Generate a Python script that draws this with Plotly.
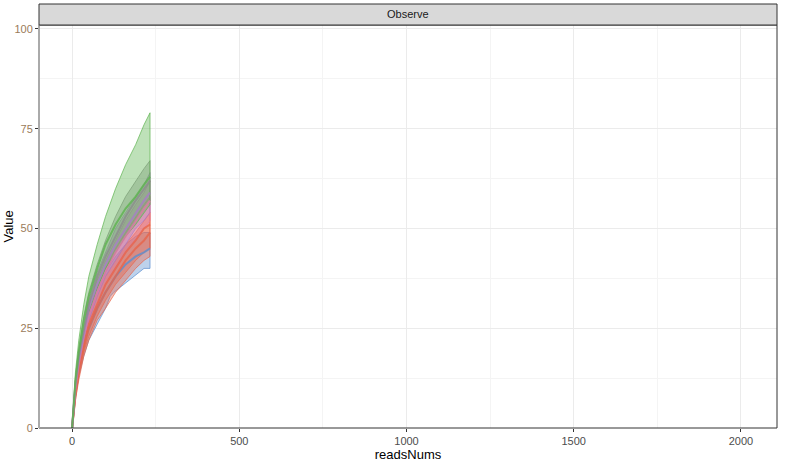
import plotly.graph_objects as go

# sample depths shared by the curves
reads = [0, 5, 10, 20, 35, 50, 75, 100, 130, 160, 190, 215, 233]

green_mid = [0, 7, 12, 19, 27, 33, 40, 46, 51, 55, 58, 61, 63]
green_hi = [0, 8, 14, 22, 31, 38, 46, 53, 60, 66, 71, 76, 79]
green_lo = [0, 6, 10, 17, 24, 29, 35, 40, 44, 48, 51, 54, 56]

gray_mid = [0, 6, 11, 18, 25, 31, 38, 43, 48, 53, 57, 60, 62]
gray_hi = [0, 7, 12, 20, 28, 34, 41, 47, 53, 58, 62, 65, 67]
gray_lo = [0, 5, 10, 16, 23, 28, 34, 39, 44, 48, 52, 55, 57]

purple_mid = [0, 6, 11, 17, 24, 30, 36, 41, 46, 50, 54, 57, 59]
purple_hi = [0, 7, 12, 19, 26, 32, 39, 44, 50, 54, 58, 61, 64]
purple_lo = [0, 5, 9, 15, 22, 27, 33, 38, 42, 46, 50, 52, 54]

pink_mid = [0, 5, 10, 16, 23, 28, 34, 39, 44, 48, 52, 55, 57]
pink_hi = [0, 6, 11, 18, 25, 31, 37, 42, 47, 52, 56, 59, 62]
pink_lo = [0, 4, 9, 14, 21, 26, 31, 36, 40, 44, 47, 50, 52]

red1_mid = [0, 5, 9, 15, 21, 26, 31, 36, 40, 44, 47, 50, 51]
red1_hi = [0, 6, 10, 17, 24, 29, 35, 40, 45, 49, 53, 56, 58]
red1_lo = [0, 4, 8, 13, 19, 23, 28, 32, 36, 39, 42, 44, 45]

red2_mid = [0, 4, 8, 14, 20, 25, 30, 34, 38, 42, 45, 47, 49]
red2_hi = [0, 5, 9, 16, 22, 27, 33, 38, 42, 46, 49, 52, 54]
red2_lo = [0, 3, 7, 12, 18, 22, 27, 30, 34, 37, 40, 42, 43]

blue_mid = [0, 5, 9, 15, 21, 25, 30, 34, 38, 41, 43, 44, 45]
blue_hi = [0, 6, 10, 17, 24, 29, 34, 39, 43, 46, 48, 49, 49]
# lower blue edge is a staircase
blue_lo_x = [0, 5, 10, 20, 35, 50, 75, 100, 114, 125, 140, 155, 170, 185, 200, 215, 233]
blue_lo = [0, 4, 8, 13, 18, 22, 26, 30, 33, 34, 35, 36, 37, 38, 39, 40, 40]

groups = [
    ("blue", "#5B8FD0", "rgba(91,143,208,0.40)", blue_mid, blue_hi, blue_lo, blue_lo_x),
    ("red2", "#E8654A", "rgba(232,101,74,0.40)", red2_mid, red2_hi, red2_lo, reads),
    ("red1", "#E8654A", "rgba(232,101,74,0.40)", red1_mid, red1_hi, red1_lo, reads),
    ("pink", "#E07BA8", "rgba(224,123,168,0.35)", pink_mid, pink_hi, pink_lo, reads),
    ("purple", "#A87CC8", "rgba(168,124,200,0.35)", purple_mid, purple_hi, purple_lo, reads),
    ("gray", "#8C8C8C", "rgba(140,140,140,0.40)", gray_mid, gray_hi, gray_lo, reads),
    ("green", "#5DB34F", "rgba(93,179,79,0.40)", green_mid, green_hi, green_lo, reads),
]

fig = go.Figure()

for name, col, fillcol, mid, hi, lo, lo_x in groups:
    # ribbon polygon: upper edge forward, lower edge back
    px_ = list(reads) + list(lo_x)[::-1]
    py_ = list(hi) + list(lo)[::-1]
    fig.add_trace(go.Scatter(x=px_, y=py_, fill="toself", fillcolor=fillcol,
                             line=dict(color=col, width=0.7), mode="lines",
                             showlegend=False, hoverinfo="skip"))

for name, col, fillcol, mid, hi, lo, lo_x in groups:
    fig.add_trace(go.Scatter(x=reads, y=mid, mode="lines", opacity=0.8,
                             line=dict(color=col, width=2), name=name,
                             showlegend=False))

H = 468 - 25 - 40  # panel height in px
W = 786 - 39 - 9   # panel width in px

fig.update_layout(
    width=786, height=468,
    margin=dict(l=39, r=9, t=25, b=40),
    paper_bgcolor="white", plot_bgcolor="white",
    font=dict(family="Liberation Sans, Arial, sans-serif", color="#4d4d4d", size=11),
    xaxis=dict(range=[-99, 2108], tickvals=[0, 500, 1000, 1500, 2000],
               automargin=False,
               showgrid=True, gridcolor="#ebebeb", gridwidth=1,
               minor=dict(tickvals=[250, 750, 1250, 1750], showgrid=True,
                          gridcolor="#f4f4f4", gridwidth=1),
               zeroline=False, ticks="outside", ticklen=3, tickcolor="#333333",
               tickfont=dict(size=11, color="#4d4d4d"),
               title=dict(text="readsNums", font=dict(size=13, color="#000000"), standoff=0)),
    yaxis=dict(range=[0, 101], tickvals=[0, 25, 50, 75, 100],
               automargin=False,
               showgrid=True, gridcolor="#ebebeb", gridwidth=1,
               minor=dict(tickvals=[12.5, 37.5, 62.5, 87.5], showgrid=True,
                          gridcolor="#f4f4f4", gridwidth=1),
               zeroline=False, ticks="outside", ticklen=3, tickcolor="#333333",
               tickfont=dict(size=11, color="#9A7B5A")),
)

# y title placed by hand so it stays clear of the tick labels
fig.add_annotation(text="Value", xref="paper", yref="paper", x=-31 / W, y=0.5,
                   textangle=-90, showarrow=False, xanchor="center", yanchor="middle",
                   font=dict(size=13, color="#000000"))

# panel border and strip
fig.add_shape(type="rect", xref="paper", yref="paper", x0=0, x1=1, y0=0, y1=1,
              line=dict(color="#333333", width=1), layer="above")
fig.add_shape(type="line", xref="paper", yref="paper", x0=0, x1=0, y0=0, y1=1,
              line=dict(color="#aaaaaa", width=2), layer="above")
fig.add_shape(type="rect", xref="paper", yref="paper", x0=0, x1=1, y0=1, y1=1 + 21 / H,
              fillcolor="#d9d9d9", line=dict(color="#333333", width=1), layer="above")
fig.add_annotation(text="Observe", xref="paper", yref="paper", x=0.5, y=1 + 10.5 / H,
                   yanchor="middle", showarrow=False, font=dict(size=11, color="#1a1a1a"))

# drop the page's default body margin so the figure sits at the window corner
fig.write_html("out.html", config={"displayModeBar": False},
               post_script="document.body.style.margin = '0';")
